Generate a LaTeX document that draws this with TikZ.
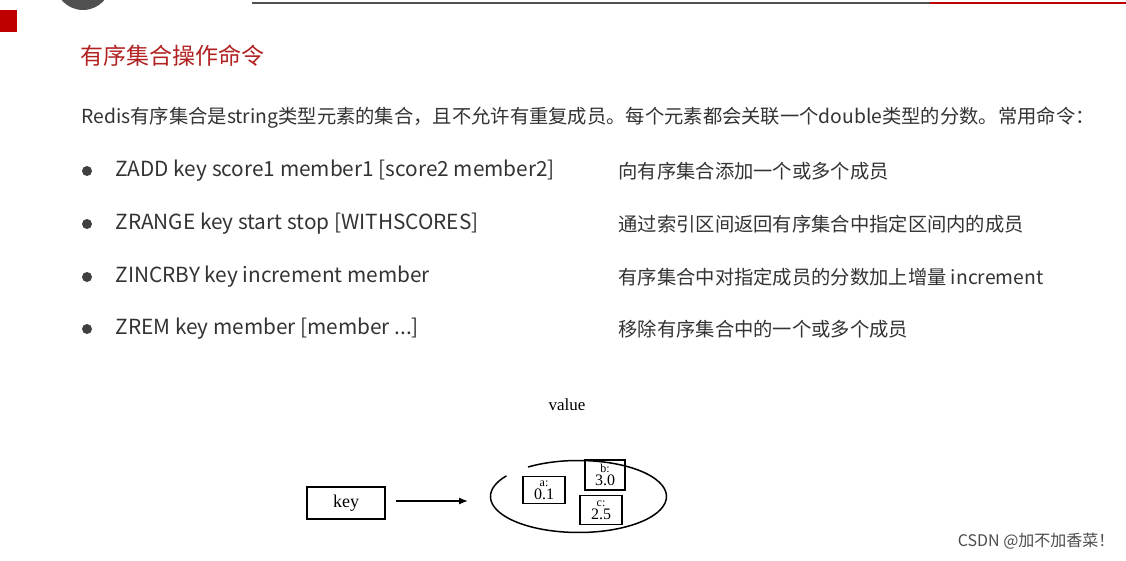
\documentclass[tikz,border=0pt]{standalone}
\usepackage{fontspec}
\setmainfont{Noto Sans CJK SC}
\newfontfamily\serifhand{Liberation Serif}
\usetikzlibrary{arrows.meta}
\definecolor{titlered}{RGB}{178,34,34}
\definecolor{bargray}{RGB}{80,80,80}
\tikzset{
  cmd/.style={anchor=west, font=\fontsize{20.8}{20}\selectfont, text=black!80},
  desc/.style={anchor=west, font=\fontsize{19.3}{19}\selectfont, text=black!80},
  bullet/.style={circle, fill=black!75, inner sep=0pt, minimum size=10pt},
  hbox/.style={draw, line width=1.3pt, inner sep=0pt, font=\serifhand\fontsize{18}{13}\selectfont, align=center}
}
\begin{document}
\begin{tikzpicture}[x=1pt,y=-1pt]
  \useasboundingbox (0,0) rectangle (1126,560);
  \fill[white] (0,0) rectangle (1126,560);
  % header decorations
  \fill[red!75!black] (0,10) rectangle (17,32);
  \fill[bargray] (83,-18) circle (28);
  \draw[bargray, line width=2.5pt] (252,3) -- (930,3);
  \draw[red!75!black, line width=2.5pt] (930,3) -- (1126,3);
  \node[anchor=west, text=titlered, font=\fontsize{23}{23}\selectfont] (title) at (77,56) {有序集合操作命令};
  \node[anchor=west, text=black!80, font=\fontsize{19.3}{19}\selectfont] (intro) at (78,118)
    {Redis有序集合是string类型元素的集合，且不允许有重复成员。每个元素都会关联一个double类型的分数。常用命令：};
  % command list
  \foreach \y/\c/\d in {171/{ZADD key score1 member1 [score2 member2]}/{向有序集合添加一个或多个成员},
                        224/{ZRANGE key start stop [WITHSCORES]}/{通过索引区间返回有序集合中指定区间内的成员},
                        277/{ZINCRBY key increment member}/{有序集合中对指定成员的分数加上增量 increment},
                        329/{ZREM key member [member ...]}/{移除有序集合中的一个或多个成员}} {
    \node[bullet] at (87,\y) {};
    \node[cmd] at (112,\y) {\c};
    \node[desc] at (615,\y) {\d};
  }
  % diagram
  \node[font=\serifhand\fontsize{17}{17}\selectfont] (value) at (567,405) {value};
  \node[hbox, minimum width=78pt, minimum height=32pt] (key) at (346,503) {key};
  \coordinate (tip) at (468,501);
  \draw[line width=1.3pt, -{Latex[length=9pt,width=7pt]}] (key.east) ++(10,-2) -- (tip);
  \draw[line width=1.5pt] (528,467) arc[start angle=-125, end angle=215, x radius=88, y radius=36];
  \node[hbox, minimum width=42pt, minimum height=27pt] (a) at (544,490) {\fontsize{12}{11}\selectfont a:\\\fontsize{16}{12}\selectfont 0.1};
  \node[hbox, minimum width=40pt, minimum height=30pt] (b) at (605,475) {\fontsize{12}{11}\selectfont b:\\\fontsize{16}{12}\selectfont 3.0};
  \node[hbox, minimum width=42pt, minimum height=29pt] (c) at (601,510) {\fontsize{12}{11}\selectfont c:\\\fontsize{16}{12}\selectfont 2.5};
  \node[anchor=east, text=black!70, font=\fontsize{16}{16}\selectfont] (mark) at (1118,541) {CSDN @加不加香菜！};
\end{tikzpicture}
\end{document}
